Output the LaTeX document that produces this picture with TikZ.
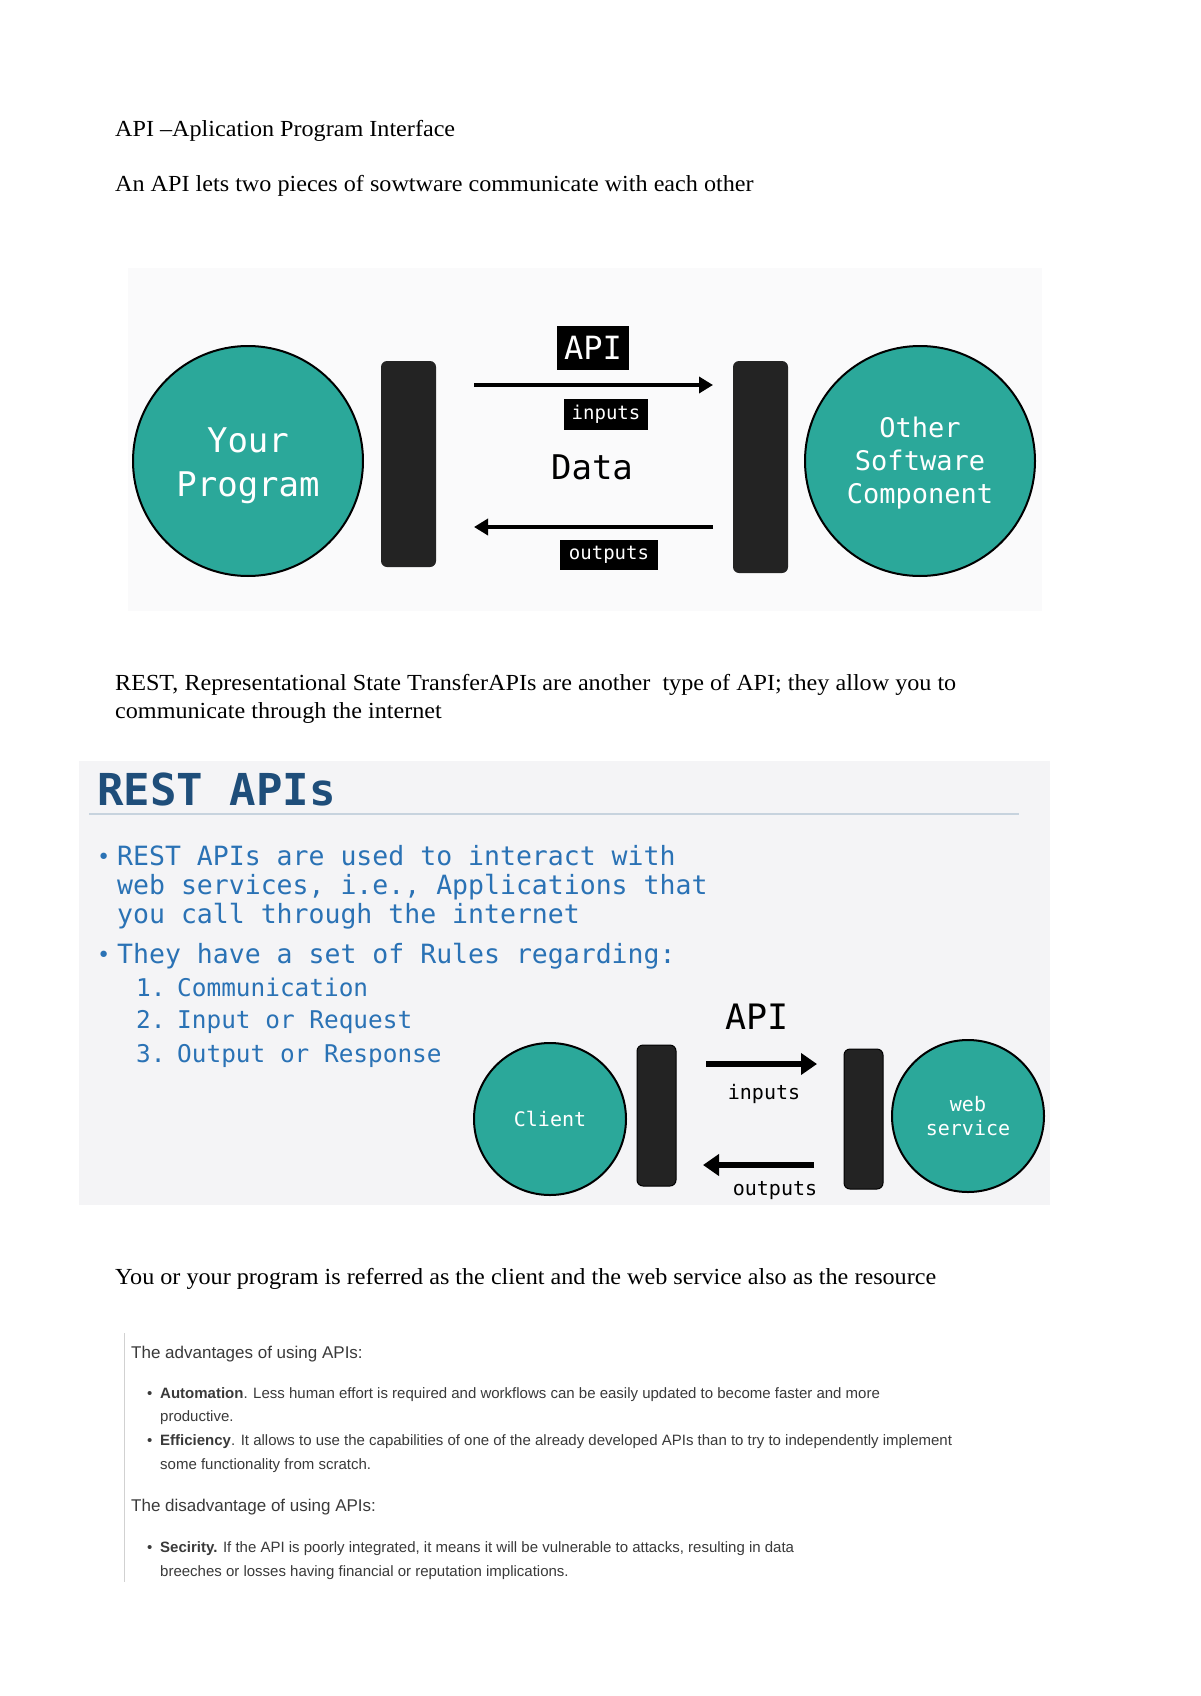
\documentclass[tikz,border=0pt]{standalone}
\usepackage{fontspec}
\setmainfont{Liberation Serif}[FakeStretch=1.05]
\newfontfamily\monof{DejaVu Sans Mono}
\newfontfamily\sansf{Liberation Sans}
\usetikzlibrary{arrows.meta}
\definecolor{tealc}{HTML}{2BA89A}
\definecolor{barc}{HTML}{232323}
\definecolor{restblue}{HTML}{1F4E7A}
\definecolor{bulblue}{HTML}{2A72B5}
\definecolor{bgone}{HTML}{FAFAFB}
\definecolor{bgtwo}{HTML}{F4F4F6}
\definecolor{greytext}{HTML}{3A3A3A}
\tikzset{
  bodytext/.style={anchor=base west, inner sep=0pt, font=\fontsize{23}{27}\selectfont},
  bigcircle/.style={circle, draw=black, line width=2pt, fill=tealc, text=white, align=center, inner sep=0pt},
  circletext/.style={text=white, align=center, inner sep=0pt},
  apibar/.style={draw=none, fill=barc, rounded corners=6pt, inner sep=0pt},
  blackbox/.style={fill=black, text=white, inner sep=0pt, font=\monof},
  arrowone/.style={line width=4pt, -{Triangle[length=14pt,width=16pt]}},
  arrowtwo/.style={line width=6pt, -{Triangle[length=16pt,width=21pt]}},
  resttext/.style={anchor=base west, inner sep=0pt, text=bulblue, font=\monof\fontsize{26.5}{30}\selectfont},
  numtext/.style={anchor=base west, inner sep=0pt, text=bulblue, font=\monof\fontsize{24.4}{28}\selectfont},
  advtext/.style={anchor=base west, inner sep=0pt, text=greytext, font=\sansf\fontsize{15}{18}\selectfont},
  advhead/.style={anchor=base west, inner sep=0pt, text=greytext, font=\sansf\fontsize{17}{20}\selectfont},
}
\begin{document}
\begin{tikzpicture}[x=1pt,y=-1pt]
\useasboundingbox[fill=white] (0,0) rectangle (1200,1696);

% heading texts
\node[bodytext] (t1) at (115,137) {API --Aplication Program Interface};
\node[bodytext] (t2) at (115,192) {An API lets two pieces of sowtware communicate with each other};

% first diagram
\fill[bgone] (128,268) rectangle (1042,611);
\node[bigcircle, minimum size=230pt] (yp) at (248,461) {};
\node[circletext, font=\monof\fontsize{34}{44}\selectfont] (ypt) at ([yshift=-5pt]yp.center) {Your\\Program};
\node[bigcircle, minimum size=230pt] (osc) at (920,461) {};
\node[circletext, font=\monof\fontsize{27}{33}\selectfont] (osct) at ([yshift=-2.5pt]osc.center) {Other\\Software\\Component};
\node[apibar, minimum width=55pt, minimum height=206pt] (lb1) at (408.5,464) {};
\node[apibar, minimum width=55pt, minimum height=212pt] (rb1) at (760.5,467) {};
\node[blackbox, minimum width=72pt, minimum height=44pt, font=\monof\fontsize{32}{36}\selectfont] (api1) at (593,348) {API};
\node[blackbox, minimum width=84pt, minimum height=31pt, font=\monof\fontsize{19}{22}\selectfont] (in1) at (606,414.5) {inputs};
\node[inner sep=0pt, font=\monof\fontsize{34}{40}\selectfont] (data1) at (592,467) {Data};
\node[blackbox, minimum width=98pt, minimum height=30pt, font=\monof\fontsize{19}{22}\selectfont] (out1) at (609,555) {outputs};
\coordinate (a1s) at (474,385);
\coordinate (a1e) at (713,385);
\coordinate (b1s) at (713,527);
\coordinate (b1e) at (474,527);
\draw[arrowone] (a1s) -- (a1e);
\draw[arrowone] (b1s) -- (b1e);

% REST paragraph
\node[bodytext] (t3) at (115,690) {REST, Representational State TransferAPIs are another\ \ type of API; they allow\ you to};
\node[bodytext] (t4) at (115,718) {communicate through the internet};

% second diagram
\fill[bgtwo] (79,761) rectangle (1050,1205);
\node[anchor=base west, inner sep=0pt, text=restblue, font=\monof\bfseries\fontsize{44}{48}\selectfont] (rest) at (97,805) {REST APIs};
\draw[color=restblue!25, line width=1.2pt] (89,814) -- (1019,814);
\node[anchor=base west, inner sep=0pt, text=bulblue, font=\monof\fontsize{22}{30}\selectfont] (bu1) at (97,864) {•};
\node[resttext] (r1) at (117,865) {REST APIs are used to interact with};
\node[resttext] (r2) at (117,894) {web services, i.e., Applications that};
\node[resttext] (r3) at (117,923) {you call through the internet};
\node[anchor=base west, inner sep=0pt, text=bulblue, font=\monof\fontsize{22}{30}\selectfont] (bu2) at (97,962) {•};
\node[resttext] (r4) at (117,963) {They have a set of Rules regarding:};
\node[numtext] (l1) at (136,996) {1.};
\node[numtext] (n1) at (177,996) {Communication};
\node[numtext] (l2) at (136,1028) {2.};
\node[numtext] (n2) at (177,1028) {Input or Request};
\node[numtext] (l3) at (136,1062) {3.};
\node[numtext] (n3) at (177,1062) {Output or Response};

\node[inner sep=0pt, font=\monof\fontsize{35}{40}\selectfont] (api2) at (757,1017) {API};
\node[bigcircle, minimum size=152pt, font=\monof\fontsize{20}{24}\selectfont] (cl) at (550,1119) {Client};
\node[bigcircle, minimum size=152pt, font=\monof\fontsize{20}{24}\selectfont] (ws) at (968,1116) {web\\service};
\node[apibar, draw=black, line width=1pt, minimum width=39pt, minimum height=141pt] (lb2) at (656.5,1115.5) {};
\node[apibar, draw=black, line width=1pt, minimum width=39pt, minimum height=140pt] (rb2) at (863.5,1119) {};
\node[inner sep=0pt, font=\monof\fontsize{20}{24}\selectfont] (in2) at (764,1094) {inputs};
\node[inner sep=0pt, font=\monof\fontsize{20}{24}\selectfont] (out2) at (775,1191) {outputs};
\coordinate (a2s) at (706,1064);
\coordinate (a2e) at (817,1064);
\coordinate (b2s) at (814,1165);
\coordinate (b2e) at (703,1165);
\draw[arrowtwo] (a2s) -- (a2e);
\draw[arrowtwo] (b2s) -- (b2e);

% client sentence
\node[bodytext] (t5) at (115,1284) {You or your program is referred as the client and the web service also as the resource};

% advantages block
\draw[color=black!18, line width=1pt] (124,1333) -- (124,1582);
\node[advhead] (ah) at (131,1358) {The advantages of using APIs:};
\node[advtext] (ab1) at (147,1398) {•};
\node[advtext] (a1) at (160,1398) {\textbf{Automation}. Less human effort is required and workflows can be easily updated to become faster and more};
\node[advtext] (a1b) at (160,1421) {productive.};
\node[advtext] (ab2) at (147,1445) {•};
\node[advtext] (a2) at (160,1445) {\textbf{Efficiency}. It allows to use the capabilities of one of the already developed APIs than to try to independently implement};
\node[advtext] (a2b) at (160,1469) {some functionality from scratch.};
\node[advhead] (dh) at (131,1511) {The disadvantage of using APIs:};
\node[advtext] (db1) at (147,1552) {•};
\node[advtext] (d1) at (160,1552) {\textbf{Secirity.} If the API is poorly integrated, it means it will be vulnerable to attacks, resulting in data};
\node[advtext] (d1b) at (160,1576) {breeches or losses having financial or reputation implications.};
\end{tikzpicture}
\end{document}
